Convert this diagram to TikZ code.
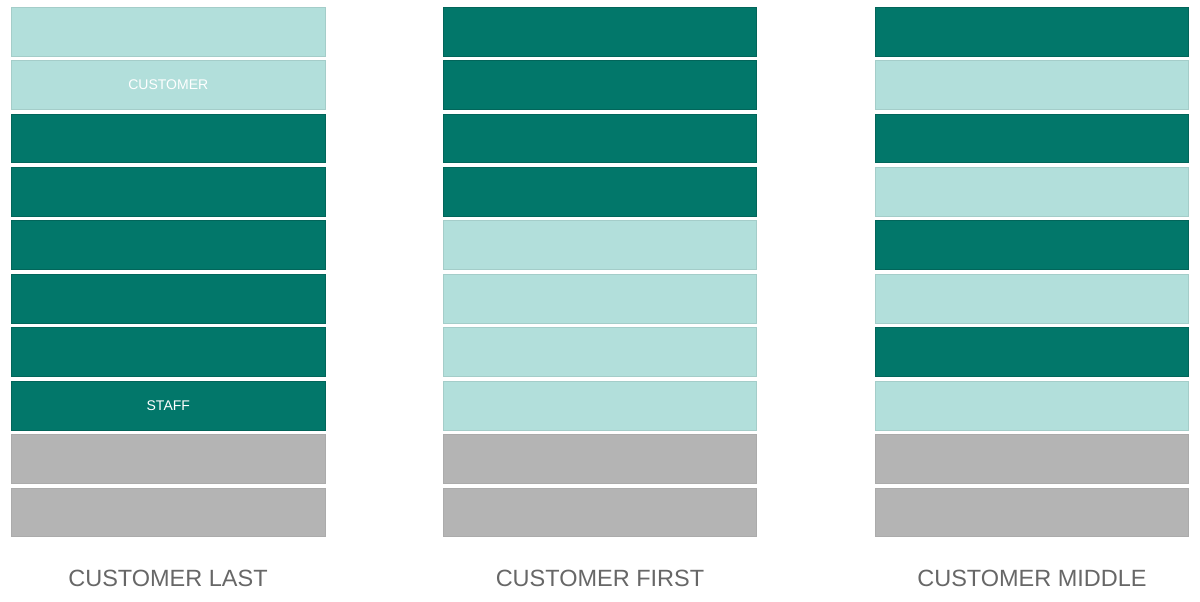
\documentclass[tikz,border=0pt]{standalone}
\usepackage{fontspec}
\setmainfont{Liberation Sans}
\definecolor{darkteal}{HTML}{02776A}
\definecolor{lightteal}{HTML}{B2DFDB}
\definecolor{greybox}{HTML}{B4B4B4}
\definecolor{captiongrey}{HTML}{676767}
\begin{document}
\begin{tikzpicture}[x=1pt,y=-1pt,
  bar/.style={anchor=north west,minimum width=313.6pt,minimum height=48.8pt,inner sep=0pt,outer sep=0pt,
    text=white,font=\fontsize{14}{16}\selectfont},
  dk/.style={bar,fill=darkteal,draw=darkteal!85!black,line width=0.4pt},
  lt/.style={bar,fill=lightteal,draw=lightteal!92!black,line width=0.4pt},
  gr/.style={bar,fill=greybox,draw=greybox!95!black,line width=0.4pt},
  caption/.style={text=captiongrey,font=\fontsize{23.5}{28}\selectfont,inner sep=0pt}]
\useasboundingbox (0,0) rectangle (1200,602);
\fill[white] (0,0) rectangle (1200,602);
% column 1: customer last
\foreach \r/\s/\t in {1/lt/,2/lt/CUSTOMER,3/dk/,4/dk/,5/dk/,6/dk/,7/dk/,8/dk/STAFF,9/gr/,10/gr/}{
  \node[\s] (a\r) at (11.5,{7+53.42*(\r-1)}) {\t};
}
% column 2: customer first
\foreach \r/\s in {1/dk,2/dk,3/dk,4/dk,5/lt,6/lt,7/lt,8/lt,9/gr,10/gr}{
  \node[\s] (b\r) at (443,{7+53.42*(\r-1)}) {};
}
% column 3: customer middle
\foreach \r/\s in {1/dk,2/lt,3/dk,4/lt,5/dk,6/lt,7/dk,8/lt,9/gr,10/gr}{
  \node[\s] (c\r) at (875,{7+53.42*(\r-1)}) {};
}
\node[caption] (capa) at (168,578) {CUSTOMER LAST};
\node[caption] (capb) at (600,578) {CUSTOMER FIRST};
\node[caption] (capc) at (1032,578) {CUSTOMER MIDDLE};
\end{tikzpicture}
\end{document}
